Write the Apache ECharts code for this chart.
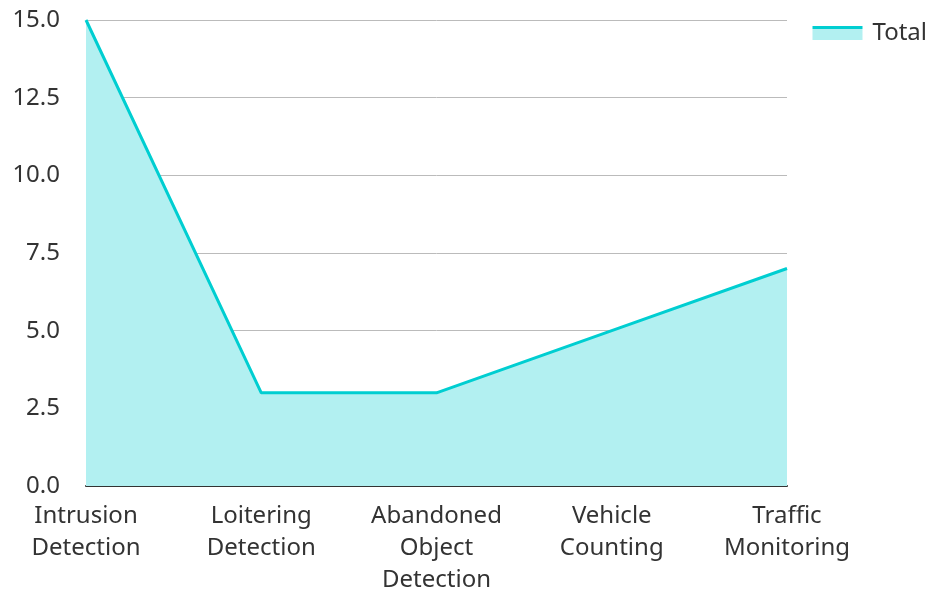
<!DOCTYPE html>
<html>
<head>
<meta charset="utf-8">
<script src="https://cdn.jsdelivr.net/npm/echarts@6/dist/echarts.min.js"></script>
<style>
  html, body { margin: 0; padding: 0; background: #fff; }
  #main { width: 928px; height: 591px; }
</style>
</head>
<body>
<div id="main"></div>
<script>
const categories = ['Intrusion\nDetection', 'Loitering\nDetection', 'Abandoned\nObject\nDetection', 'Vehicle\nCounting', 'Traffic\nMonitoring']
const totals = [15, 3, 3, 5, 7]
const seriesName = 'Total'

const font = '"Noto Sans", sans-serif'
const lineColor = '#00ced1'
const areaColor = '#b2f0f1'
const chart = echarts.init(document.getElementById('main'))

chart.setOption({
    animation: false,
    // labels may reach the bottom edge, don't let the grid shrink for them
    grid: { left: 86, right: 141, top: 20, bottom: 105, outerBoundsMode: 'none', containLabel: false },
    legend: {
        data: [{
            name: seriesName,
            icon: 'rect',
            // line on top, area underneath
            itemStyle: {
                color: new echarts.graphic.LinearGradient(0, 0, 0, 1, [
                    { offset: 0, color: lineColor },
                    { offset: 0.25, color: lineColor },
                    { offset: 0.25, color: areaColor },
                    { offset: 1, color: areaColor }
                ])
            }
        }],
        right: 0,
        top: 16,
        padding: [5, 1, 5, 5],
        itemWidth: 50,
        itemHeight: 14,
        itemGap: 10,
        textStyle: { fontFamily: font, fontSize: 24, color: '#333', padding: [0, 0, 0, 5] }
    },
    xAxis: {
        type: 'category',
        boundaryGap: false,
        data: categories,
        axisLine: { lineStyle: { color: '#333', width: 2 } },
        axisTick: { show: false },
        axisLabel: {
            fontFamily: font, fontSize: 24, color: '#333',
            lineHeight: 32, margin: 14, interval: 0
        }
    },
    yAxis: {
        type: 'value',
        min: 0,
        max: 15,
        interval: 2.5,
        axisLine: { show: false },
        axisTick: { show: false },
        axisLabel: {
            fontFamily: font, fontSize: 24, color: '#333', margin: 26,
            formatter: (v) => v.toFixed(1)
        },
        splitLine: { lineStyle: { color: '#bbbbbb', width: 1 } }
    },
    series: [
        {
            name: seriesName,
            type: 'line',
            data: totals,
            symbol: 'none',
            lineStyle: { color: lineColor, width: 3 },
            itemStyle: { color: lineColor },
            areaStyle: { color: areaColor, opacity: 1 }
        }
    ]
})
</script>
</body>
</html>
